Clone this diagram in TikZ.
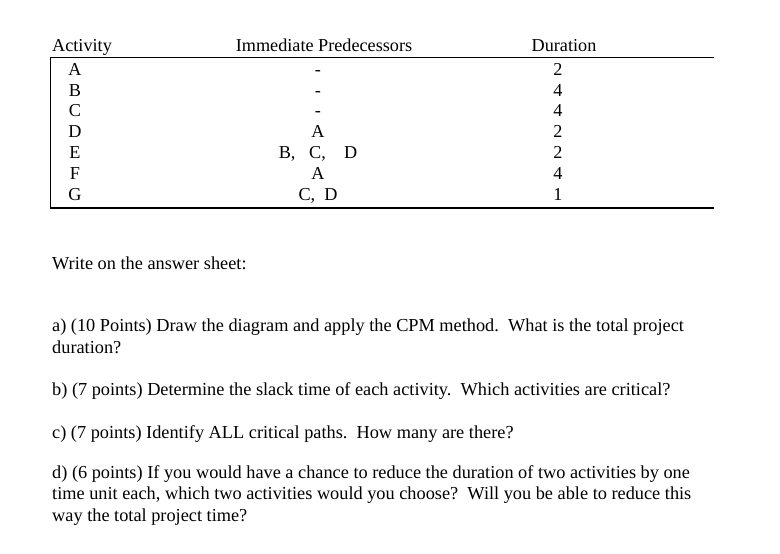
\documentclass[tikz,border=0pt]{standalone}
\usepackage{fontspec}
\setmainfont{Liberation Serif}
\begin{document}
\begin{tikzpicture}[x=1pt,y=-1pt,
  tb/.style={anchor=base,inner sep=0pt,font=\fontsize{18.2}{20}\selectfont},
  tx/.style={anchor=base west,inner sep=0pt,font=\fontsize{18.3}{20}\selectfont}]
\useasboundingbox (0,0) rectangle (780,554);
\node[tb,anchor=base west] (h1) at (52,52) {Activity};
\node[tb] (h2) at (324,52) {Immediate Predecessors};
\node[tb] (h3) at (564,52) {Duration};
\draw[line width=1.4pt] (50,57.5) -- (714,57.5);
\draw[line width=1.6pt] (50,208) -- (714,208);
\draw[line width=0.7pt] (50,57.5) -- (50,208);
\foreach \a/\p/\d/\y in {A/-/2/75,B/-/4/96,C/-/4/116,D/A/2/137,E/{B,\ \ \ C,\ \ \ \ D}/2/158,F/A/4/179,G/{C,\ \ D}/1/200}{
  \node[tb] at (75,\y) {\a};
  \node[tb] at (318,\y) {\p};
  \node[tb] at (558,\y) {\d};
}
\node[tx] (w) at (52,269) {Write on the answer sheet:};
\node[tx] (a1) at (52,331) {a) (10 Points) Draw the diagram and apply the CPM method.\ \ What is the total project};
\node[tx] (a2) at (52,353) {duration?};
\node[tx] (b) at (52,395) {b) (7 points) Determine the slack time of each activity.\ \ Which activities are critical?};
\node[tx] (c) at (52,438) {c) (7 points) Identify ALL critical paths.\ \ How many are there?};
\node[tx] (d1) at (52,478) {d) (6 points) If you would have a chance to reduce the duration of two activities by one};
\node[tx] (d2) at (52,499) {time unit each, which two activities would you choose?\ \ Will you be able to reduce this};
\node[tx] (d3) at (52,521) {way the total project time?};
\end{tikzpicture}
\end{document}
